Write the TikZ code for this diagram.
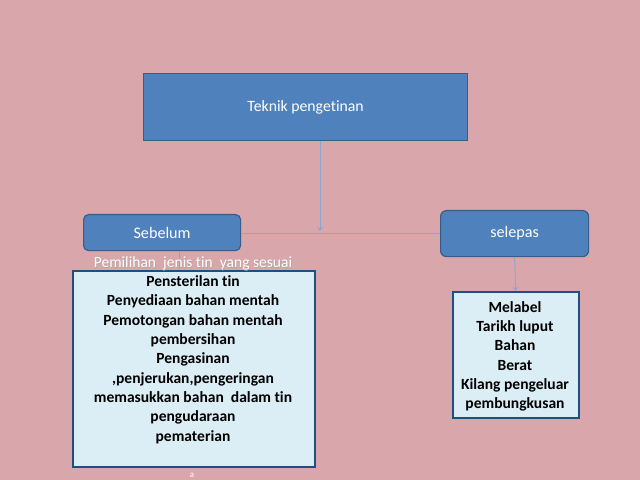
\documentclass[tikz,border=0pt]{standalone}
\usepackage{fontspec}
\setmainfont[Ligatures=NoCommon]{Carlito}
\usetikzlibrary{arrows.meta}
\definecolor{bg}{HTML}{D9A6AB}
\definecolor{boxblue}{HTML}{4F81BD}
\definecolor{boxedge}{HTML}{385D8A}
\definecolor{lightfill}{HTML}{DCEEF5}
\definecolor{lightedge}{HTML}{1F4E80}
\definecolor{conn}{HTML}{8EA6CF}
\begin{document}
\begin{tikzpicture}[x=1bp,y=-1bp,
  bluebox/.style={draw=boxedge,line width=1.2bp,fill=boxblue,text=white,inner sep=0pt,anchor=north west},
  listbox/.style={draw=lightedge,line width=1.5bp,fill=lightfill,inner sep=0pt,anchor=north west},
  listtext/.style={font=\fontsize{15.6}{19.4}\selectfont\bfseries,align=center,anchor=north,inner sep=0pt},
  connector/.style={draw=conn,line width=0.9bp},
  tip/.style={-{To[length=4bp,width=6bp]}}]
\useasboundingbox (0,0) rectangle (640,480);
\fill[bg] (0,0) rectangle (640,480);
% boxes
\node[bluebox,minimum width=324bp,minimum height=67bp,font=\fontsize{15.8}{18}\selectfont] (top) at (143,73) {Teknik pengetinan};
\node[bluebox,rounded corners=5bp,minimum width=157bp,minimum height=36bp,font=\fontsize{16.2}{18}\selectfont] (sebelum) at (83,214) {Sebelum};
\node[bluebox,rounded corners=6bp,minimum width=148bp,minimum height=46bp,font=\fontsize{16.2}{18}\selectfont] (selepas) at (440,210) {selepas};
\node[listbox,minimum width=242bp,minimum height=196bp] (left) at (72,270) {};
\node[listtext] (lefttext) at (193,275.5) {Pensterilan tin\\Penyediaan bahan mentah\\Pemotongan bahan mentah\\pembersihan\\Pengasinan\\,penjerukan,pengeringan\\memasukkan bahan\ \ dalam tin\\pengudaraan\\pematerian};
\node[listbox,minimum width=126bp,minimum height=126bp] (right) at (452,291) {};
\node[listtext] (righttext) at (515,301) {Melabel\\Tarikh luput\\Bahan\\Berat\\Kilang pengeluar\\pembungkusan};
% connectors
\coordinate (join) at (320,231);
\draw[connector,tip] (top.south -| join) -- (join);
\draw[connector] (sebelum.east |- 0,233) -- (selepas.west |- 0,233);
\draw[connector] (sebelum.south -| 179,0) -- (left.north -| 179,0);
\draw[connector,tip] (selepas.south) -- (right.north);
% floating texts
\node[text=gray!70,font=\fontsize{15.6}{17}\selectfont] at (193.6,264.1) {Pemilihan\ \ jenis tin\ \ yang sesuai};
\node[text=white,font=\fontsize{15.6}{17}\selectfont] (pemilihan) at (193,263.5) {Pemilihan\ \ jenis tin\ \ yang sesuai};
\node[text=white,font=\fontsize{9}{10}\selectfont] (a) at (192,475) {a};
\end{tikzpicture}
\end{document}
